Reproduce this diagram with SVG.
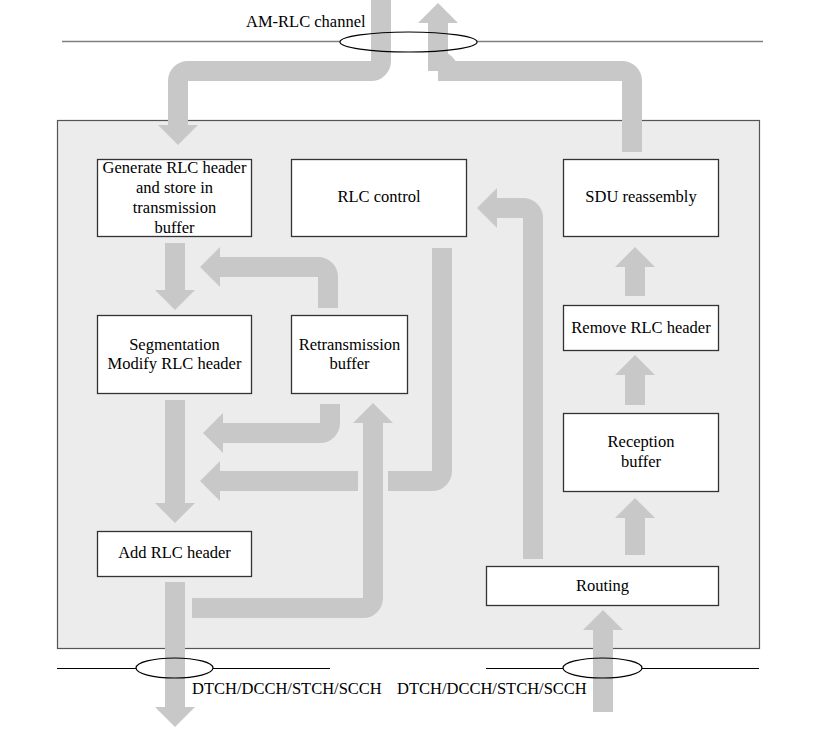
<svg xmlns="http://www.w3.org/2000/svg" width="823" height="731" viewBox="0 0 823 731">
<style>
.node{fill:#ffffff;stroke:#333333;stroke-width:1.3}
.t{font-family:"Liberation Serif","Times New Roman",serif;font-size:16.5px;fill:#000000;text-anchor:middle}
.tl{font-family:"Liberation Serif","Times New Roman",serif;font-size:16.5px;fill:#000000}
.flow{fill:none;stroke:#c8c8c8;stroke-width:20;stroke-linecap:butt;stroke-linejoin:miter}
.arr{marker-end:url(#head)}
.chan{fill:none;stroke:#000000;stroke-width:1.2}
</style>
<defs>
<marker id="head" markerUnits="userSpaceOnUse" markerWidth="20" markerHeight="40" viewBox="0 -20 20 40" refX="0" refY="0" orient="auto" overflow="visible">
<path d="M0,-20 L20,0 L0,20 Z" fill="#c8c8c8"/>
</marker>
</defs>
<rect width="823" height="731" fill="#ffffff"/>
<g id="rlc-entity">
<rect x="57.5" y="120.5" width="702" height="528" fill="#ececec" stroke="#555555" stroke-width="1.2"/>
</g>
<g id="am-rlc-channel">
<line x1="62" y1="41.5" x2="340" y2="41.5" stroke="#808080" stroke-width="1.6"/>
<line x1="477" y1="41.5" x2="763" y2="41.5" stroke="#808080" stroke-width="1.6"/>
<text class="tl" x="246" y="27">AM-RLC channel</text>
</g>
<g id="node-generate">
<rect class="node" x="97.5" y="159.5" width="154" height="77"/>
<text class="t" x="174.5" y="173">Generate RLC header</text>
<text class="t" x="174.5" y="193">and store in</text>
<text class="t" x="174.5" y="213">transmission</text>
<text class="t" x="174.5" y="233">buffer</text>
</g>
<g id="node-rlc-control">
<rect class="node" x="291.5" y="159.5" width="175" height="77"/>
<text class="t" x="379" y="202">RLC control</text>
</g>
<g id="node-sdu-reassembly">
<rect class="node" x="563.5" y="159.5" width="155" height="77"/>
<text class="t" x="641" y="202">SDU reassembly</text>
</g>
<g id="node-segmentation">
<rect class="node" x="97.5" y="315.5" width="154" height="78"/>
<text class="t" x="174.5" y="350">Segmentation</text>
<text class="t" x="174.5" y="369">Modify RLC header</text>
</g>
<g id="node-retransmission">
<rect class="node" x="291.5" y="315.5" width="116" height="78"/>
<text class="t" x="349.5" y="350">Retransmission</text>
<text class="t" x="349.5" y="369">buffer</text>
</g>
<g id="node-remove-header">
<rect class="node" x="563.5" y="305.5" width="155" height="45"/>
<text class="t" x="641" y="333">Remove RLC header</text>
</g>
<g id="node-reception">
<rect class="node" x="563.5" y="413.5" width="155" height="78"/>
<text class="t" x="641" y="447">Reception</text>
<text class="t" x="641" y="467">buffer</text>
</g>
<g id="node-add-header">
<rect class="node" x="97.5" y="531.5" width="154" height="45"/>
<text class="t" x="174.5" y="558">Add RLC header</text>
</g>
<g id="node-routing">
<rect class="node" x="486.5" y="566.5" width="232" height="39"/>
<text class="t" x="602.5" y="591">Routing</text>
</g>
<g id="connectors">
<path class="flow arr" d="M381,0 V61 A10,10 0 0 1 371,71 H188 A10,10 0 0 0 178,81 V125"/>
<path class="flow arr" d="M632,152 V81 A10,10 0 0 0 622,71 H448 A10,10 0 0 0 438,61 V23"/>
<path class="flow arr" d="M175,243 V290"/>
<path class="flow arr" d="M328,308 V277 A10,10 0 0 0 318,267 H220"/>
<path class="flow arr" d="M175,400 V503"/>
<path class="flow arr" d="M330,404 V423 A10,10 0 0 1 320,433 H223"/>
<path class="flow" d="M442,248 V471 A10,10 0 0 1 432,481 H388"/>
<path class="flow arr" d="M358,481 H220"/>
<path class="flow arr" d="M192,608 H363 A10,10 0 0 0 373,598 V423"/>
<path class="flow arr" d="M533,559 V218 A10,10 0 0 0 523,208 H497"/>
<path class="flow arr" d="M603,712 V630"/>
<path class="flow arr" d="M635,555 V518"/>
<path class="flow arr" d="M635,405 V375"/>
<path class="flow arr" d="M635,296 V267"/>
<path class="flow arr" d="M175,582 V707"/>
</g>
<g id="top-ellipse">
<ellipse class="chan" cx="408.5" cy="42" rx="68.5" ry="10"/>
</g>
<g id="logical-channels">
<line class="chan" x1="57" y1="668.5" x2="136" y2="668.5"/>
<line class="chan" x1="213" y1="668.5" x2="330" y2="668.5"/>
<ellipse class="chan" cx="174.5" cy="668" rx="38.5" ry="10"/>
<line class="chan" x1="486" y1="668.5" x2="563" y2="668.5"/>
<line class="chan" x1="642" y1="668.5" x2="759" y2="668.5"/>
<ellipse class="chan" cx="602.5" cy="668" rx="39.5" ry="10"/>
<text class="tl" x="192" y="694">DTCH/DCCH/STCH/SCCH</text>
<text class="tl" x="397" y="694">DTCH/DCCH/STCH/SCCH</text>
</g>
</svg>
